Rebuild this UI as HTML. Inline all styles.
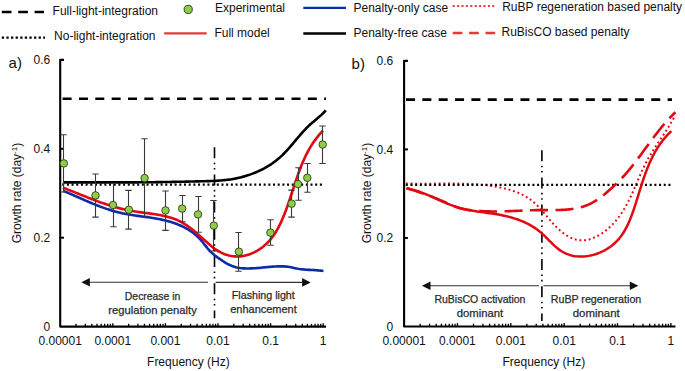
<!DOCTYPE html>
<html><head><meta charset="utf-8"><style>
html,body{margin:0;padding:0;background:#fff;}
body{width:685px;height:371px;overflow:hidden;}
svg{display:block;}
</style></head><body>
<svg width="685" height="371" viewBox="0 0 685 371">
<rect width="685" height="371" fill="#fff"/>
<path d="M64.00,59.90 L60.20,59.90 L60.20,326.60 L326.00,326.60" fill="none" stroke="#000" stroke-width="2.1" stroke-linejoin="round"/>
<line x1="60.20" y1="237.70" x2="64.00" y2="237.70" stroke="#000" stroke-width="2"/>
<line x1="60.20" y1="148.80" x2="64.00" y2="148.80" stroke="#000" stroke-width="2"/>
<line x1="76.03" y1="326.60" x2="76.03" y2="323.80" stroke="#000" stroke-width="1.3"/>
<line x1="85.30" y1="326.60" x2="85.30" y2="323.80" stroke="#000" stroke-width="1.3"/>
<line x1="91.87" y1="326.60" x2="91.87" y2="323.80" stroke="#000" stroke-width="1.3"/>
<line x1="96.97" y1="326.60" x2="96.97" y2="323.80" stroke="#000" stroke-width="1.3"/>
<line x1="101.13" y1="326.60" x2="101.13" y2="323.80" stroke="#000" stroke-width="1.3"/>
<line x1="104.65" y1="326.60" x2="104.65" y2="323.80" stroke="#000" stroke-width="1.3"/>
<line x1="107.70" y1="326.60" x2="107.70" y2="323.80" stroke="#000" stroke-width="1.3"/>
<line x1="110.39" y1="326.60" x2="110.39" y2="323.80" stroke="#000" stroke-width="1.3"/>
<line x1="112.80" y1="326.60" x2="112.80" y2="323.20" stroke="#000" stroke-width="1.3"/>
<line x1="128.63" y1="326.60" x2="128.63" y2="323.80" stroke="#000" stroke-width="1.3"/>
<line x1="137.90" y1="326.60" x2="137.90" y2="323.80" stroke="#000" stroke-width="1.3"/>
<line x1="144.47" y1="326.60" x2="144.47" y2="323.80" stroke="#000" stroke-width="1.3"/>
<line x1="149.57" y1="326.60" x2="149.57" y2="323.80" stroke="#000" stroke-width="1.3"/>
<line x1="153.73" y1="326.60" x2="153.73" y2="323.80" stroke="#000" stroke-width="1.3"/>
<line x1="157.25" y1="326.60" x2="157.25" y2="323.80" stroke="#000" stroke-width="1.3"/>
<line x1="160.30" y1="326.60" x2="160.30" y2="323.80" stroke="#000" stroke-width="1.3"/>
<line x1="162.99" y1="326.60" x2="162.99" y2="323.80" stroke="#000" stroke-width="1.3"/>
<line x1="165.40" y1="326.60" x2="165.40" y2="323.20" stroke="#000" stroke-width="1.3"/>
<line x1="181.23" y1="326.60" x2="181.23" y2="323.80" stroke="#000" stroke-width="1.3"/>
<line x1="190.50" y1="326.60" x2="190.50" y2="323.80" stroke="#000" stroke-width="1.3"/>
<line x1="197.07" y1="326.60" x2="197.07" y2="323.80" stroke="#000" stroke-width="1.3"/>
<line x1="202.17" y1="326.60" x2="202.17" y2="323.80" stroke="#000" stroke-width="1.3"/>
<line x1="206.33" y1="326.60" x2="206.33" y2="323.80" stroke="#000" stroke-width="1.3"/>
<line x1="209.85" y1="326.60" x2="209.85" y2="323.80" stroke="#000" stroke-width="1.3"/>
<line x1="212.90" y1="326.60" x2="212.90" y2="323.80" stroke="#000" stroke-width="1.3"/>
<line x1="215.59" y1="326.60" x2="215.59" y2="323.80" stroke="#000" stroke-width="1.3"/>
<line x1="218.00" y1="326.60" x2="218.00" y2="323.20" stroke="#000" stroke-width="1.3"/>
<line x1="233.83" y1="326.60" x2="233.83" y2="323.80" stroke="#000" stroke-width="1.3"/>
<line x1="243.10" y1="326.60" x2="243.10" y2="323.80" stroke="#000" stroke-width="1.3"/>
<line x1="249.67" y1="326.60" x2="249.67" y2="323.80" stroke="#000" stroke-width="1.3"/>
<line x1="254.77" y1="326.60" x2="254.77" y2="323.80" stroke="#000" stroke-width="1.3"/>
<line x1="258.93" y1="326.60" x2="258.93" y2="323.80" stroke="#000" stroke-width="1.3"/>
<line x1="262.45" y1="326.60" x2="262.45" y2="323.80" stroke="#000" stroke-width="1.3"/>
<line x1="265.50" y1="326.60" x2="265.50" y2="323.80" stroke="#000" stroke-width="1.3"/>
<line x1="268.19" y1="326.60" x2="268.19" y2="323.80" stroke="#000" stroke-width="1.3"/>
<line x1="270.60" y1="326.60" x2="270.60" y2="323.20" stroke="#000" stroke-width="1.3"/>
<line x1="286.43" y1="326.60" x2="286.43" y2="323.80" stroke="#000" stroke-width="1.3"/>
<line x1="295.70" y1="326.60" x2="295.70" y2="323.80" stroke="#000" stroke-width="1.3"/>
<line x1="302.27" y1="326.60" x2="302.27" y2="323.80" stroke="#000" stroke-width="1.3"/>
<line x1="307.37" y1="326.60" x2="307.37" y2="323.80" stroke="#000" stroke-width="1.3"/>
<line x1="311.53" y1="326.60" x2="311.53" y2="323.80" stroke="#000" stroke-width="1.3"/>
<line x1="315.05" y1="326.60" x2="315.05" y2="323.80" stroke="#000" stroke-width="1.3"/>
<line x1="318.10" y1="326.60" x2="318.10" y2="323.80" stroke="#000" stroke-width="1.3"/>
<line x1="320.79" y1="326.60" x2="320.79" y2="323.80" stroke="#000" stroke-width="1.3"/>
<line x1="323.20" y1="326.60" x2="323.20" y2="323.20" stroke="#000" stroke-width="1.3"/>
<text x="60.20" y="344.8" text-anchor="middle" style="font-family:'Liberation Sans',sans-serif;font-size:12px" fill="#111">0.00001</text>
<text x="112.80" y="344.8" text-anchor="middle" style="font-family:'Liberation Sans',sans-serif;font-size:12px" fill="#111">0.0001</text>
<text x="165.40" y="344.8" text-anchor="middle" style="font-family:'Liberation Sans',sans-serif;font-size:12px" fill="#111">0.001</text>
<text x="218.00" y="344.8" text-anchor="middle" style="font-family:'Liberation Sans',sans-serif;font-size:12px" fill="#111">0.01</text>
<text x="270.60" y="344.8" text-anchor="middle" style="font-family:'Liberation Sans',sans-serif;font-size:12px" fill="#111">0.1</text>
<text x="323.20" y="344.8" text-anchor="middle" style="font-family:'Liberation Sans',sans-serif;font-size:12px" fill="#111">1</text>
<text x="50.20" y="330.80" text-anchor="end" style="font-family:'Liberation Sans',sans-serif;font-size:12px" fill="#111">0</text>
<text x="50.20" y="241.90" text-anchor="end" style="font-family:'Liberation Sans',sans-serif;font-size:12px" fill="#111">0.2</text>
<text x="50.20" y="153.00" text-anchor="end" style="font-family:'Liberation Sans',sans-serif;font-size:12px" fill="#111">0.4</text>
<text x="50.20" y="64.10" text-anchor="end" style="font-family:'Liberation Sans',sans-serif;font-size:12px" fill="#111">0.6</text>
<text x="188.40" y="366.3" text-anchor="middle" style="font-family:'Liberation Sans',sans-serif;font-size:12px" fill="#111">Frequency (Hz)</text>
<text transform="translate(21.30,193) rotate(-90)" text-anchor="middle" style="font-family:'Liberation Sans',sans-serif;font-size:12px" fill="#111">Growth rate (day<tspan dy="-4" style="font-size:8px">-1</tspan><tspan dy="4">)</tspan></text>
<path d="M407.90,60.88 L404.10,60.88 L404.10,326.50 L675.45,326.50" fill="none" stroke="#000" stroke-width="2.1" stroke-linejoin="round"/>
<line x1="404.10" y1="237.96" x2="407.90" y2="237.96" stroke="#000" stroke-width="2"/>
<line x1="404.10" y1="149.42" x2="407.90" y2="149.42" stroke="#000" stroke-width="2"/>
<line x1="420.16" y1="326.50" x2="420.16" y2="323.70" stroke="#000" stroke-width="1.3"/>
<line x1="429.55" y1="326.50" x2="429.55" y2="323.70" stroke="#000" stroke-width="1.3"/>
<line x1="436.22" y1="326.50" x2="436.22" y2="323.70" stroke="#000" stroke-width="1.3"/>
<line x1="441.39" y1="326.50" x2="441.39" y2="323.70" stroke="#000" stroke-width="1.3"/>
<line x1="445.61" y1="326.50" x2="445.61" y2="323.70" stroke="#000" stroke-width="1.3"/>
<line x1="449.19" y1="326.50" x2="449.19" y2="323.70" stroke="#000" stroke-width="1.3"/>
<line x1="452.28" y1="326.50" x2="452.28" y2="323.70" stroke="#000" stroke-width="1.3"/>
<line x1="455.01" y1="326.50" x2="455.01" y2="323.70" stroke="#000" stroke-width="1.3"/>
<line x1="457.45" y1="326.50" x2="457.45" y2="323.10" stroke="#000" stroke-width="1.3"/>
<line x1="473.51" y1="326.50" x2="473.51" y2="323.70" stroke="#000" stroke-width="1.3"/>
<line x1="482.90" y1="326.50" x2="482.90" y2="323.70" stroke="#000" stroke-width="1.3"/>
<line x1="489.57" y1="326.50" x2="489.57" y2="323.70" stroke="#000" stroke-width="1.3"/>
<line x1="494.74" y1="326.50" x2="494.74" y2="323.70" stroke="#000" stroke-width="1.3"/>
<line x1="498.96" y1="326.50" x2="498.96" y2="323.70" stroke="#000" stroke-width="1.3"/>
<line x1="502.54" y1="326.50" x2="502.54" y2="323.70" stroke="#000" stroke-width="1.3"/>
<line x1="505.63" y1="326.50" x2="505.63" y2="323.70" stroke="#000" stroke-width="1.3"/>
<line x1="508.36" y1="326.50" x2="508.36" y2="323.70" stroke="#000" stroke-width="1.3"/>
<line x1="510.80" y1="326.50" x2="510.80" y2="323.10" stroke="#000" stroke-width="1.3"/>
<line x1="526.86" y1="326.50" x2="526.86" y2="323.70" stroke="#000" stroke-width="1.3"/>
<line x1="536.25" y1="326.50" x2="536.25" y2="323.70" stroke="#000" stroke-width="1.3"/>
<line x1="542.92" y1="326.50" x2="542.92" y2="323.70" stroke="#000" stroke-width="1.3"/>
<line x1="548.09" y1="326.50" x2="548.09" y2="323.70" stroke="#000" stroke-width="1.3"/>
<line x1="552.31" y1="326.50" x2="552.31" y2="323.70" stroke="#000" stroke-width="1.3"/>
<line x1="555.89" y1="326.50" x2="555.89" y2="323.70" stroke="#000" stroke-width="1.3"/>
<line x1="558.98" y1="326.50" x2="558.98" y2="323.70" stroke="#000" stroke-width="1.3"/>
<line x1="561.71" y1="326.50" x2="561.71" y2="323.70" stroke="#000" stroke-width="1.3"/>
<line x1="564.15" y1="326.50" x2="564.15" y2="323.10" stroke="#000" stroke-width="1.3"/>
<line x1="580.21" y1="326.50" x2="580.21" y2="323.70" stroke="#000" stroke-width="1.3"/>
<line x1="589.60" y1="326.50" x2="589.60" y2="323.70" stroke="#000" stroke-width="1.3"/>
<line x1="596.27" y1="326.50" x2="596.27" y2="323.70" stroke="#000" stroke-width="1.3"/>
<line x1="601.44" y1="326.50" x2="601.44" y2="323.70" stroke="#000" stroke-width="1.3"/>
<line x1="605.66" y1="326.50" x2="605.66" y2="323.70" stroke="#000" stroke-width="1.3"/>
<line x1="609.24" y1="326.50" x2="609.24" y2="323.70" stroke="#000" stroke-width="1.3"/>
<line x1="612.33" y1="326.50" x2="612.33" y2="323.70" stroke="#000" stroke-width="1.3"/>
<line x1="615.06" y1="326.50" x2="615.06" y2="323.70" stroke="#000" stroke-width="1.3"/>
<line x1="617.50" y1="326.50" x2="617.50" y2="323.10" stroke="#000" stroke-width="1.3"/>
<line x1="633.56" y1="326.50" x2="633.56" y2="323.70" stroke="#000" stroke-width="1.3"/>
<line x1="642.95" y1="326.50" x2="642.95" y2="323.70" stroke="#000" stroke-width="1.3"/>
<line x1="649.62" y1="326.50" x2="649.62" y2="323.70" stroke="#000" stroke-width="1.3"/>
<line x1="654.79" y1="326.50" x2="654.79" y2="323.70" stroke="#000" stroke-width="1.3"/>
<line x1="659.01" y1="326.50" x2="659.01" y2="323.70" stroke="#000" stroke-width="1.3"/>
<line x1="662.59" y1="326.50" x2="662.59" y2="323.70" stroke="#000" stroke-width="1.3"/>
<line x1="665.68" y1="326.50" x2="665.68" y2="323.70" stroke="#000" stroke-width="1.3"/>
<line x1="668.41" y1="326.50" x2="668.41" y2="323.70" stroke="#000" stroke-width="1.3"/>
<line x1="670.85" y1="326.50" x2="670.85" y2="323.10" stroke="#000" stroke-width="1.3"/>
<text x="404.10" y="344.8" text-anchor="middle" style="font-family:'Liberation Sans',sans-serif;font-size:12px" fill="#111">0.00001</text>
<text x="457.45" y="344.8" text-anchor="middle" style="font-family:'Liberation Sans',sans-serif;font-size:12px" fill="#111">0.0001</text>
<text x="510.80" y="344.8" text-anchor="middle" style="font-family:'Liberation Sans',sans-serif;font-size:12px" fill="#111">0.001</text>
<text x="564.15" y="344.8" text-anchor="middle" style="font-family:'Liberation Sans',sans-serif;font-size:12px" fill="#111">0.01</text>
<text x="617.50" y="344.8" text-anchor="middle" style="font-family:'Liberation Sans',sans-serif;font-size:12px" fill="#111">0.1</text>
<text x="670.85" y="344.8" text-anchor="middle" style="font-family:'Liberation Sans',sans-serif;font-size:12px" fill="#111">1</text>
<text x="393.20" y="330.70" text-anchor="end" style="font-family:'Liberation Sans',sans-serif;font-size:12px" fill="#111">0</text>
<text x="393.20" y="242.16" text-anchor="end" style="font-family:'Liberation Sans',sans-serif;font-size:12px" fill="#111">0.2</text>
<text x="393.20" y="153.62" text-anchor="end" style="font-family:'Liberation Sans',sans-serif;font-size:12px" fill="#111">0.4</text>
<text x="393.20" y="65.08" text-anchor="end" style="font-family:'Liberation Sans',sans-serif;font-size:12px" fill="#111">0.6</text>
<text x="543.80" y="366.3" text-anchor="middle" style="font-family:'Liberation Sans',sans-serif;font-size:12px" fill="#111">Frequency (Hz)</text>
<text transform="translate(371.40,193) rotate(-90)" text-anchor="middle" style="font-family:'Liberation Sans',sans-serif;font-size:12px" fill="#111">Growth rate (day<tspan dy="-4" style="font-size:8px">-1</tspan><tspan dy="4">)</tspan></text>
<text x="8.6" y="67.6" style="font-family:'Liberation Sans',sans-serif;font-size:15px" fill="#111">a)</text>
<text x="351.6" y="68.9" style="font-family:'Liberation Sans',sans-serif;font-size:15px" fill="#111">b)</text>
<line x1="62.6" y1="98.8" x2="326" y2="98.8" stroke="#000" stroke-width="2.6" stroke-dasharray="9 7.35"/>
<line x1="214.5" y1="147.2" x2="214.5" y2="318.2" stroke="#000" stroke-width="1.6" stroke-dasharray="11 4.45 1.6 3.75 1.6 4.8"/>
<line x1="62.2" y1="184.6" x2="324" y2="184.6" stroke="#000" stroke-width="2.1" stroke-dasharray="2 2.685"/>
<path d="M63.00,182.41 L64.50,182.41 L65.99,182.40 L67.48,182.40 L68.97,182.40 L70.47,182.39 L71.96,182.39 L73.45,182.39 L74.95,182.39 L76.44,182.39 L77.93,182.39 L79.43,182.39 L80.92,182.39 L82.42,182.39 L83.91,182.39 L85.40,182.39 L86.90,182.39 L88.39,182.39 L89.89,182.39 L91.38,182.39 L92.87,182.39 L94.37,182.39 L95.86,182.39 L97.36,182.39 L98.85,182.40 L100.34,182.40 L101.84,182.40 L103.33,182.40 L104.83,182.40 L106.32,182.40 L107.82,182.40 L109.31,182.40 L110.81,182.40 L112.30,182.40 L113.79,182.40 L115.29,182.40 L116.78,182.40 L118.28,182.39 L119.77,182.39 L121.27,182.39 L122.76,182.39 L124.26,182.38 L125.75,182.38 L127.24,182.37 L128.74,182.37 L130.23,182.36 L131.73,182.36 L133.22,182.35 L134.71,182.34 L136.21,182.33 L137.70,182.33 L139.20,182.32 L140.69,182.31 L142.18,182.30 L143.68,182.28 L145.17,182.27 L146.66,182.26 L148.16,182.24 L149.65,182.23 L151.14,182.21 L152.64,182.20 L154.13,182.18 L155.62,182.16 L157.11,182.14 L158.61,182.12 L160.10,182.10 L161.59,182.08 L163.08,182.06 L164.58,182.03 L166.07,182.01 L167.56,181.99 L169.05,181.96 L170.55,181.93 L172.04,181.91 L173.53,181.88 L175.03,181.85 L176.52,181.82 L178.01,181.80 L179.50,181.77 L181.00,181.74 L182.49,181.71 L183.98,181.68 L185.48,181.64 L186.97,181.61 L188.46,181.58 L189.96,181.55 L191.45,181.52 L192.95,181.48 L194.44,181.45 L195.93,181.41 L197.43,181.38 L198.92,181.35 L200.42,181.31 L201.91,181.28 L203.41,181.24 L204.91,181.20 L206.40,181.16 L207.90,181.12 L209.39,181.08 L210.89,181.02 L212.38,180.97 L213.88,180.90 L215.37,180.83 L216.86,180.75 L218.36,180.65 L219.85,180.55 L221.34,180.43 L222.82,180.30 L224.31,180.16 L225.80,180.00 L227.28,179.82 L228.76,179.63 L230.25,179.42 L231.72,179.18 L233.20,178.93 L234.67,178.66 L236.14,178.37 L237.61,178.07 L239.07,177.74 L240.53,177.39 L241.98,177.02 L243.43,176.63 L244.87,176.22 L246.31,175.79 L247.74,175.35 L249.16,174.88 L250.57,174.39 L251.98,173.88 L253.37,173.35 L254.76,172.80 L256.14,172.23 L257.51,171.64 L258.87,171.02 L260.22,170.39 L261.55,169.74 L262.88,169.06 L264.19,168.36 L265.49,167.65 L266.78,166.91 L268.05,166.15 L269.31,165.37 L270.56,164.56 L271.79,163.74 L273.01,162.89 L274.21,162.02 L275.39,161.14 L276.56,160.22 L277.71,159.29 L278.85,158.33 L279.96,157.36 L281.06,156.36 L282.15,155.34 L283.21,154.30 L284.26,153.24 L285.30,152.17 L286.33,151.08 L287.34,149.98 L288.35,148.86 L289.34,147.74 L290.33,146.60 L291.31,145.46 L292.29,144.32 L293.27,143.16 L294.24,142.01 L295.21,140.85 L296.18,139.70 L297.15,138.54 L298.13,137.39 L299.10,136.24 L300.09,135.10 L301.07,133.96 L302.07,132.84 L303.07,131.72 L304.09,130.61 L305.11,129.52 L306.15,128.45 L307.20,127.38 L308.26,126.34 L309.34,125.32 L310.44,124.31 L311.55,123.32 L312.68,122.35 L313.81,121.39 L314.95,120.44 L316.09,119.48 L317.23,118.53 L318.36,117.57 L319.49,116.59 L320.60,115.60 L321.70,114.59 L322.78,113.56 L323.83,112.49 L324.86,111.40 L325.86,110.27" fill="none" stroke="#000" stroke-width="2.6"/>
<path d="M63.02,190.75 L64.40,191.33 L65.78,191.91 L67.16,192.49 L68.54,193.08 L69.91,193.68 L71.29,194.28 L72.66,194.88 L74.04,195.48 L75.41,196.09 L76.78,196.69 L78.15,197.30 L79.52,197.91 L80.89,198.52 L82.27,199.12 L83.64,199.72 L85.01,200.32 L86.39,200.92 L87.76,201.52 L89.14,202.11 L90.52,202.69 L91.90,203.27 L93.28,203.84 L94.67,204.41 L96.06,204.97 L97.45,205.52 L98.84,206.06 L100.23,206.60 L101.63,207.12 L103.03,207.64 L104.44,208.14 L105.85,208.63 L107.26,209.11 L108.68,209.58 L110.10,210.03 L111.53,210.47 L112.96,210.90 L114.40,211.31 L115.84,211.70 L117.29,212.08 L118.74,212.45 L120.20,212.79 L121.66,213.12 L123.13,213.43 L124.61,213.72 L126.09,214.00 L127.57,214.27 L129.05,214.53 L130.54,214.77 L132.03,215.01 L133.52,215.24 L135.00,215.46 L136.49,215.67 L137.98,215.88 L139.47,216.09 L140.95,216.30 L142.43,216.50 L143.91,216.70 L145.39,216.91 L146.87,217.11 L148.34,217.33 L149.82,217.54 L151.29,217.77 L152.76,218.00 L154.23,218.24 L155.70,218.49 L157.17,218.76 L158.64,219.03 L160.11,219.33 L161.58,219.63 L163.04,219.96 L164.51,220.30 L165.97,220.66 L167.43,221.04 L168.89,221.44 L170.34,221.86 L171.78,222.30 L173.21,222.76 L174.64,223.25 L176.06,223.75 L177.46,224.29 L178.85,224.84 L180.23,225.43 L181.60,226.03 L182.95,226.67 L184.29,227.33 L185.61,228.03 L186.91,228.75 L188.19,229.50 L189.45,230.28 L190.69,231.09 L191.92,231.94 L193.11,232.82 L194.29,233.73 L195.44,234.68 L196.56,235.66 L197.66,236.67 L198.72,237.73 L199.76,238.82 L200.78,239.95 L201.76,241.11 L202.73,242.29 L203.68,243.49 L204.63,244.70 L205.58,245.90 L206.53,247.09 L207.49,248.27 L208.47,249.41 L209.47,250.53 L210.50,251.59 L211.57,252.61 L212.66,253.60 L213.78,254.54 L214.93,255.46 L216.10,256.35 L217.29,257.23 L218.51,258.09 L219.73,258.94 L220.98,259.79 L222.24,260.64 L223.52,261.47 L224.81,262.28 L226.11,263.06 L227.44,263.81 L228.78,264.53 L230.13,265.19 L231.51,265.80 L232.90,266.35 L234.31,266.84 L235.74,267.25 L237.18,267.58 L238.64,267.86 L240.11,268.07 L241.59,268.23 L243.07,268.34 L244.56,268.41 L246.05,268.45 L247.54,268.47 L249.03,268.45 L250.52,268.42 L252.02,268.36 L253.51,268.28 L255.00,268.19 L256.50,268.08 L257.99,267.96 L259.49,267.83 L260.98,267.69 L262.48,267.55 L263.97,267.40 L265.47,267.26 L266.97,267.12 L268.46,266.98 L269.96,266.85 L271.46,266.73 L272.96,266.63 L274.46,266.53 L275.96,266.45 L277.46,266.40 L278.97,266.36 L280.47,266.35 L281.97,266.36 L283.47,266.41 L284.97,266.49 L286.46,266.61 L287.95,266.77 L289.42,266.98 L290.89,267.25 L292.34,267.56 L293.79,267.91 L295.24,268.25 L296.69,268.56 L298.15,268.83 L299.62,269.06 L301.10,269.25 L302.58,269.41 L304.07,269.55 L305.56,269.66 L307.05,269.76 L308.55,269.84 L310.05,269.92 L311.55,269.99 L313.05,270.06 L314.55,270.14 L316.05,270.23 L317.55,270.34 L319.04,270.47 L320.53,270.62 L322.02,270.80 L323.50,271.01" fill="none" stroke="#0c2ba8" stroke-width="2.6"/>
<path d="M62.93,187.76 L64.36,188.30 L65.79,188.84 L67.22,189.38 L68.64,189.93 L70.06,190.48 L71.48,191.03 L72.89,191.59 L74.29,192.14 L75.70,192.70 L77.10,193.25 L78.49,193.81 L79.89,194.37 L81.28,194.92 L82.67,195.47 L84.06,196.03 L85.45,196.58 L86.84,197.13 L88.23,197.67 L89.61,198.21 L91.00,198.75 L92.38,199.29 L93.77,199.82 L95.15,200.34 L96.54,200.86 L97.93,201.38 L99.32,201.89 L100.71,202.39 L102.10,202.89 L103.50,203.37 L104.90,203.85 L106.30,204.33 L107.70,204.79 L109.11,205.25 L110.52,205.69 L111.93,206.13 L113.35,206.56 L114.77,206.97 L116.20,207.38 L117.63,207.77 L119.07,208.15 L120.51,208.52 L121.95,208.88 L123.41,209.23 L124.87,209.56 L126.33,209.88 L127.81,210.18 L129.29,210.47 L130.78,210.75 L132.27,211.01 L133.77,211.25 L135.28,211.49 L136.79,211.72 L138.30,211.94 L139.82,212.15 L141.34,212.36 L142.86,212.57 L144.38,212.77 L145.90,212.98 L147.42,213.18 L148.94,213.39 L150.46,213.60 L151.98,213.82 L153.49,214.04 L154.99,214.27 L156.50,214.52 L157.99,214.77 L159.48,215.04 L160.96,215.32 L162.44,215.62 L163.90,215.94 L165.36,216.27 L166.81,216.63 L168.24,217.01 L169.66,217.41 L171.08,217.84 L172.47,218.29 L173.86,218.78 L175.22,219.29 L176.58,219.83 L177.91,220.41 L179.24,221.02 L180.54,221.66 L181.82,222.35 L183.09,223.06 L184.34,223.81 L185.58,224.59 L186.80,225.40 L188.01,226.23 L189.21,227.09 L190.39,227.98 L191.57,228.88 L192.74,229.81 L193.89,230.75 L195.04,231.71 L196.19,232.69 L197.32,233.68 L198.46,234.68 L199.58,235.68 L200.71,236.70 L201.83,237.72 L202.95,238.75 L204.07,239.78 L205.20,240.81 L206.32,241.83 L207.45,242.85 L208.58,243.86 L209.72,244.85 L210.88,245.83 L212.04,246.77 L213.22,247.69 L214.42,248.58 L215.64,249.43 L216.88,250.24 L218.13,251.01 L219.41,251.73 L220.71,252.40 L222.02,253.03 L223.35,253.61 L224.70,254.14 L226.06,254.62 L227.43,255.05 L228.82,255.42 L230.22,255.74 L231.63,256.00 L233.05,256.21 L234.48,256.36 L235.91,256.44 L237.35,256.47 L238.80,256.43 L240.26,256.33 L241.72,256.16 L243.17,255.93 L244.63,255.65 L246.09,255.30 L247.53,254.89 L248.97,254.44 L250.40,253.92 L251.82,253.36 L253.22,252.75 L254.60,252.09 L255.96,251.39 L257.30,250.64 L258.61,249.85 L259.90,249.02 L261.16,248.16 L262.38,247.26 L263.57,246.32 L264.72,245.35 L265.84,244.35 L266.92,243.33 L267.96,242.27 L268.98,241.19 L269.96,240.08 L270.90,238.94 L271.82,237.78 L272.71,236.60 L273.57,235.40 L274.40,234.18 L275.21,232.94 L275.99,231.68 L276.75,230.40 L277.49,229.11 L278.21,227.80 L278.90,226.48 L279.58,225.14 L280.23,223.80 L280.87,222.44 L281.50,221.08 L282.11,219.71 L282.70,218.33 L283.28,216.95 L283.86,215.56 L284.42,214.16 L284.96,212.77 L285.50,211.36 L286.03,209.96 L286.55,208.55 L287.07,207.13 L287.57,205.72 L288.07,204.30 L288.56,202.88 L289.05,201.46 L289.53,200.03 L290.01,198.60 L290.48,197.18 L290.95,195.75 L291.42,194.32 L291.89,192.89 L292.35,191.46 L292.81,190.03 L293.28,188.60 L293.74,187.17 L294.21,185.74 L294.67,184.32 L295.14,182.89 L295.62,181.47 L296.09,180.05 L296.57,178.63 L297.06,177.22 L297.55,175.81 L298.05,174.40 L298.55,172.99 L299.06,171.59 L299.58,170.19 L300.11,168.80 L300.65,167.41 L301.20,166.03 L301.76,164.65 L302.33,163.28 L302.91,161.92 L303.50,160.56 L304.11,159.21 L304.73,157.86 L305.36,156.52 L306.01,155.19 L306.68,153.87 L307.36,152.55 L308.05,151.24 L308.77,149.95 L309.50,148.66 L310.25,147.37 L311.03,146.10 L311.82,144.84 L312.63,143.59 L313.46,142.35 L314.31,141.12 L315.19,139.90 L316.09,138.69 L317.01,137.49 L317.96,136.30 L318.93,135.13 L319.93,133.97 L320.96,132.82 L322.01,131.68 L323.08,130.56" fill="none" stroke="#e20a12" stroke-width="2.65"/>
<path d="M63.5,134.8 V192.0 M60.3,134.8 H66.7 M60.3,192.0 H66.7" stroke="#3a3a3a" stroke-width="1.1" fill="none"/>
<path d="M95.5,174.0 V217.1 M92.3,174.0 H98.7 M92.3,217.1 H98.7" stroke="#3a3a3a" stroke-width="1.1" fill="none"/>
<path d="M113.5,183.2 V226.8 M110.3,183.2 H116.7 M110.3,226.8 H116.7" stroke="#3a3a3a" stroke-width="1.1" fill="none"/>
<path d="M128.5,190.4 V229.1 M125.3,190.4 H131.7 M125.3,229.1 H131.7" stroke="#3a3a3a" stroke-width="1.1" fill="none"/>
<path d="M144.5,138.8 V217.3 M141.3,138.8 H147.7 M141.3,217.3 H147.7" stroke="#3a3a3a" stroke-width="1.1" fill="none"/>
<path d="M165.5,191.0 V230.4 M162.3,191.0 H168.7 M162.3,230.4 H168.7" stroke="#3a3a3a" stroke-width="1.1" fill="none"/>
<path d="M182.5,195.5 V221.7 M179.3,195.5 H185.7 M179.3,221.7 H185.7" stroke="#3a3a3a" stroke-width="1.1" fill="none"/>
<path d="M198.5,196.5 V232.3 M195.3,196.5 H201.7 M195.3,232.3 H201.7" stroke="#3a3a3a" stroke-width="1.1" fill="none"/>
<path d="M213.5,200.5 V251.0 M210.3,200.5 H216.7 M210.3,251.0 H216.7" stroke="#3a3a3a" stroke-width="1.1" fill="none"/>
<path d="M238.5,232.5 V271.3 M235.3,232.5 H241.7 M235.3,271.3 H241.7" stroke="#3a3a3a" stroke-width="1.1" fill="none"/>
<path d="M270.5,219.7 V245.3 M267.3,219.7 H273.7 M267.3,245.3 H273.7" stroke="#3a3a3a" stroke-width="1.1" fill="none"/>
<path d="M291.5,190.1 V217.1 M288.3,190.1 H294.7 M288.3,217.1 H294.7" stroke="#3a3a3a" stroke-width="1.1" fill="none"/>
<path d="M298.5,167.8 V200.2 M295.3,167.8 H301.7 M295.3,200.2 H301.7" stroke="#3a3a3a" stroke-width="1.1" fill="none"/>
<path d="M307.5,163.5 V192.3 M304.3,163.5 H310.7 M304.3,192.3 H310.7" stroke="#3a3a3a" stroke-width="1.1" fill="none"/>
<path d="M322.5,126.0 V163.5 M319.3,126.0 H325.7 M319.3,163.5 H325.7" stroke="#3a3a3a" stroke-width="1.1" fill="none"/>
<circle cx="63.8" cy="163.4" r="3.75" fill="#8fcc4c" stroke="#2e4216" stroke-width="0.9"/>
<circle cx="95.5" cy="195.4" r="3.75" fill="#8fcc4c" stroke="#2e4216" stroke-width="0.9"/>
<circle cx="113.0" cy="205.0" r="3.75" fill="#8fcc4c" stroke="#2e4216" stroke-width="0.9"/>
<circle cx="128.8" cy="209.7" r="3.75" fill="#8fcc4c" stroke="#2e4216" stroke-width="0.9"/>
<circle cx="144.6" cy="178.1" r="3.75" fill="#8fcc4c" stroke="#2e4216" stroke-width="0.9"/>
<circle cx="165.5" cy="210.4" r="3.75" fill="#8fcc4c" stroke="#2e4216" stroke-width="0.9"/>
<circle cx="182.2" cy="208.6" r="3.75" fill="#8fcc4c" stroke="#2e4216" stroke-width="0.9"/>
<circle cx="198.0" cy="214.4" r="3.75" fill="#8fcc4c" stroke="#2e4216" stroke-width="0.9"/>
<circle cx="213.8" cy="225.6" r="3.75" fill="#8fcc4c" stroke="#2e4216" stroke-width="0.9"/>
<circle cx="238.9" cy="251.7" r="3.75" fill="#8fcc4c" stroke="#2e4216" stroke-width="0.9"/>
<circle cx="270.4" cy="232.6" r="3.75" fill="#8fcc4c" stroke="#2e4216" stroke-width="0.9"/>
<circle cx="291.6" cy="203.7" r="3.75" fill="#8fcc4c" stroke="#2e4216" stroke-width="0.9"/>
<circle cx="298.0" cy="184.1" r="3.75" fill="#8fcc4c" stroke="#2e4216" stroke-width="0.9"/>
<circle cx="307.3" cy="177.8" r="3.75" fill="#8fcc4c" stroke="#2e4216" stroke-width="0.9"/>
<circle cx="322.7" cy="144.6" r="3.75" fill="#8fcc4c" stroke="#2e4216" stroke-width="0.9"/>
<line x1="89.3" y1="282.3" x2="208.0" y2="282.3" stroke="#333" stroke-width="1.1"/>
<path d="M81.3,282.3 L89.89999999999999,278.0 L89.89999999999999,286.6 Z" fill="#111"/>
<line x1="215.6" y1="282.4" x2="302.7" y2="282.4" stroke="#333" stroke-width="1.1"/>
<path d="M310.7,282.4 L302.09999999999997,278.09999999999997 L302.09999999999997,286.7 Z" fill="#111"/>
<text x="152.6" y="300.3" text-anchor="middle" textLength="55.5" lengthAdjust="spacingAndGlyphs" style="font-family:'Liberation Sans',sans-serif;font-size:10.8px" fill="#2a2a2a" stroke="#2a2a2a" stroke-width="0.25">Decrease in</text>
<text x="152.5" y="313.8" text-anchor="middle" textLength="88.5" lengthAdjust="spacingAndGlyphs" style="font-family:'Liberation Sans',sans-serif;font-size:10.8px" fill="#2a2a2a" stroke="#2a2a2a" stroke-width="0.25">regulation penalty</text>
<text x="263.3" y="298.8" text-anchor="middle" textLength="63.0" lengthAdjust="spacingAndGlyphs" style="font-family:'Liberation Sans',sans-serif;font-size:10.8px" fill="#2a2a2a" stroke="#2a2a2a" stroke-width="0.25">Flashing light</text>
<text x="263.5" y="313.3" text-anchor="middle" textLength="66.5" lengthAdjust="spacingAndGlyphs" style="font-family:'Liberation Sans',sans-serif;font-size:10.8px" fill="#2a2a2a" stroke="#2a2a2a" stroke-width="0.25">enhancement</text>
<line x1="406" y1="99.6" x2="672" y2="99.6" stroke="#000" stroke-width="2.6" stroke-dasharray="9 7.35"/>
<line x1="541.9" y1="150.2" x2="541.9" y2="321.0" stroke="#000" stroke-width="1.6" stroke-dasharray="11 4.45 1.6 3.75 1.6 4.8"/>
<path d="M405.85,183.38 L407.33,183.43 L408.82,183.48 L410.31,183.52 L411.80,183.56 L413.29,183.59 L414.78,183.62 L416.27,183.64 L417.77,183.65 L419.26,183.67 L420.75,183.67 L422.25,183.68 L423.75,183.68 L425.24,183.68 L426.74,183.67 L428.24,183.67 L429.74,183.66 L431.24,183.65 L432.74,183.64 L434.24,183.63 L435.74,183.62 L437.24,183.60 L438.74,183.59 L440.24,183.58 L441.74,183.57 L443.24,183.56 L444.75,183.55 L446.25,183.55 L447.75,183.54 L449.25,183.54 L450.76,183.55 L452.26,183.55 L453.76,183.56 L455.26,183.57 L456.77,183.59 L458.27,183.61 L459.77,183.64 L461.27,183.67 L462.77,183.71 L464.28,183.76 L465.78,183.81 L467.28,183.86 L468.78,183.93 L470.28,184.00 L471.78,184.08 L473.28,184.17 L474.77,184.26 L476.27,184.37 L477.77,184.48 L479.26,184.61 L480.76,184.74 L482.26,184.88 L483.75,185.04 L485.24,185.20 L486.73,185.38 L488.23,185.57 L489.72,185.76 L491.21,185.98 L492.69,186.20 L494.18,186.44 L495.67,186.69 L497.15,186.95 L498.64,187.23 L500.12,187.52 L501.60,187.83 L503.08,188.15 L504.55,188.49 L506.02,188.85 L507.49,189.22 L508.95,189.62 L510.40,190.04 L511.84,190.48 L513.27,190.94 L514.68,191.42 L516.09,191.93 L517.48,192.47 L518.86,193.03 L520.22,193.63 L521.56,194.25 L522.88,194.90 L524.19,195.58 L525.47,196.30 L526.73,197.04 L527.97,197.83 L529.19,198.65 L530.38,199.50 L531.54,200.39 L532.68,201.32 L533.80,202.28 L534.89,203.27 L535.97,204.29 L537.03,205.33 L538.07,206.40 L539.10,207.49 L540.12,208.59 L541.13,209.72 L542.14,210.86 L543.13,212.01 L544.12,213.17 L545.11,214.34 L546.10,215.51 L547.09,216.69 L548.09,217.87 L549.08,219.04 L550.09,220.21 L551.11,221.38 L552.13,222.54 L553.17,223.68 L554.22,224.81 L555.29,225.93 L556.38,227.03 L557.48,228.11 L558.61,229.17 L559.75,230.20 L560.91,231.20 L562.09,232.16 L563.29,233.09 L564.51,233.98 L565.74,234.83 L566.98,235.62 L568.24,236.37 L569.52,237.07 L570.80,237.71 L572.10,238.28 L573.42,238.80 L574.74,239.24 L576.08,239.62 L577.42,239.92 L578.78,240.15 L580.15,240.29 L581.52,240.36 L582.90,240.34 L584.29,240.25 L585.68,240.08 L587.07,239.84 L588.46,239.54 L589.84,239.17 L591.23,238.73 L592.61,238.24 L593.98,237.69 L595.34,237.08 L596.70,236.42 L598.04,235.72 L599.37,234.96 L600.68,234.16 L601.97,233.33 L603.25,232.45 L604.50,231.54 L605.73,230.60 L606.94,229.62 L608.12,228.62 L609.28,227.60 L610.41,226.55 L611.50,225.48 L612.58,224.38 L613.63,223.27 L614.65,222.14 L615.64,220.99 L616.62,219.82 L617.57,218.64 L618.49,217.44 L619.39,216.22 L620.27,214.99 L621.13,213.75 L621.97,212.50 L622.79,211.23 L623.59,209.95 L624.37,208.66 L625.13,207.37 L625.88,206.06 L626.60,204.75 L627.31,203.43 L628.01,202.10 L628.69,200.77 L629.36,199.44 L630.01,198.09 L630.65,196.75 L631.29,195.39 L631.91,194.04 L632.53,192.68 L633.14,191.32 L633.74,189.95 L634.33,188.59 L634.92,187.22 L635.51,185.85 L636.10,184.48 L636.68,183.10 L637.27,181.73 L637.85,180.36 L638.43,178.99 L639.02,177.62 L639.61,176.25 L640.21,174.89 L640.81,173.52 L641.41,172.16 L642.03,170.81 L642.65,169.45 L643.28,168.10 L643.92,166.76 L644.58,165.42 L645.24,164.08 L645.92,162.76 L646.61,161.43 L647.32,160.12 L648.04,158.81 L648.78,157.51 L649.53,156.21 L650.30,154.92 L651.07,153.64 L651.86,152.36 L652.66,151.08 L653.46,149.81 L654.28,148.55 L655.10,147.28 L655.92,146.02 L656.76,144.76 L657.59,143.51 L658.43,142.25 L659.27,141.00 L660.11,139.74 L660.96,138.49 L661.80,137.24 L662.63,135.99 L663.47,134.73 L664.30,133.48 L665.13,132.22 L665.95,130.96 L666.77,129.70 L667.57,128.43 L668.37,127.17 L669.16,125.90 L669.93,124.62 L670.70,123.34 L671.45,122.05 L672.19,120.76 L672.91,119.46 L673.62,118.16 L674.31,116.85" fill="none" stroke="#e20a12" stroke-width="2" stroke-dasharray="1.9 2.79"/>
<line x1="405.8" y1="184.9" x2="671" y2="184.9" stroke="#000" stroke-width="2.1" stroke-dasharray="2 2.69"/>
<path d="M406.47,188.17 L407.91,188.60 L409.35,189.03 L410.79,189.47 L412.22,189.92 L413.65,190.37 L415.08,190.83 L416.51,191.29 L417.93,191.76 L419.35,192.24 L420.77,192.72 L422.19,193.21 L423.61,193.71 L425.02,194.21 L426.43,194.72 L427.83,195.24 L429.24,195.76 L430.64,196.29 L432.04,196.83 L433.44,197.37 L434.83,197.92 L436.22,198.48 L437.61,199.04 L438.99,199.62 L440.37,200.19 L441.75,200.78 L443.12,201.37 L444.50,201.97 L445.87,202.58 L447.23,203.19 L448.59,203.81 L449.96,204.43 L451.32,205.04 L452.69,205.63 L454.07,206.21 L455.46,206.75 L456.85,207.26 L458.27,207.74 L459.70,208.16 L461.14,208.55 L462.60,208.89 L464.07,209.20 L465.54,209.47 L467.03,209.72 L468.52,209.94 L470.01,210.14 L471.51,210.32 L473.00,210.48 L474.50,210.63 L475.99,210.76 L477.48,210.88 L478.98,210.99 L480.47,211.08 L481.96,211.17 L483.45,211.24 L484.94,211.30 L486.43,211.35 L487.93,211.38 L489.42,211.41 L490.91,211.43 L492.40,211.45 L493.89,211.45 L495.38,211.44 L496.87,211.43 L498.36,211.41 L499.85,211.39 L501.34,211.36 L502.83,211.32 L504.32,211.28 L505.82,211.24 L507.31,211.19 L508.80,211.13 L510.30,211.08 L511.79,211.02 L513.29,210.96 L514.78,210.90 L516.28,210.84 L517.78,210.77 L519.28,210.71 L520.78,210.65 L522.28,210.59 L523.78,210.53 L525.29,210.47 L526.79,210.41 L528.30,210.36 L529.81,210.31 L531.32,210.26 L532.83,210.22 L534.34,210.18 L535.85,210.15 L537.37,210.12 L538.89,210.10 L540.41,210.09 L541.93,210.08 L543.45,210.08 L544.97,210.08 L546.50,210.08 L548.02,210.09 L549.54,210.09 L551.07,210.09 L552.59,210.09 L554.11,210.08 L555.62,210.07 L557.14,210.04 L558.65,210.01 L560.16,209.97 L561.66,209.91 L563.16,209.84 L564.65,209.75 L566.14,209.65 L567.62,209.53 L569.10,209.38 L570.57,209.22 L572.03,209.03 L573.49,208.82 L574.93,208.58 L576.37,208.31 L577.80,208.01 L579.22,207.69 L580.63,207.33 L582.03,206.93 L583.42,206.51 L584.80,206.04 L586.17,205.54 L587.52,205.00 L588.87,204.41 L590.20,203.78 L591.51,203.12 L592.82,202.41 L594.11,201.66 L595.38,200.88 L596.65,200.07 L597.90,199.23 L599.15,198.36 L600.38,197.46 L601.59,196.55 L602.80,195.61 L604.00,194.65 L605.18,193.69 L606.35,192.71 L607.51,191.71 L608.67,190.72 L609.81,189.71 L610.94,188.71 L612.06,187.70 L613.17,186.69 L614.26,185.67 L615.35,184.65 L616.43,183.62 L617.50,182.58 L618.55,181.54 L619.60,180.48 L620.63,179.42 L621.65,178.34 L622.67,177.25 L623.67,176.16 L624.66,175.05 L625.65,173.93 L626.62,172.81 L627.59,171.68 L628.55,170.54 L629.50,169.39 L630.45,168.23 L631.39,167.07 L632.32,165.90 L633.25,164.73 L634.17,163.55 L635.08,162.36 L636.00,161.17 L636.90,159.98 L637.81,158.78 L638.71,157.58 L639.60,156.38 L640.50,155.17 L641.39,153.96 L642.28,152.75 L643.17,151.53 L644.06,150.32 L644.95,149.10 L645.84,147.89 L646.72,146.67 L647.61,145.46 L648.50,144.24 L649.39,143.03 L650.29,141.82 L651.18,140.61 L652.08,139.40 L652.98,138.20 L653.88,137.00 L654.79,135.80 L655.71,134.61 L656.62,133.42 L657.55,132.23 L658.47,131.05 L659.41,129.88 L660.35,128.71 L661.30,127.55 L662.25,126.40 L663.21,125.25 L664.18,124.11 L665.16,122.98 L666.15,121.86 L667.14,120.74 L668.15,119.64 L669.16,118.54 L670.19,117.46 L671.23,116.38 L672.27,115.32 L673.33,114.27 L674.40,113.22 L675.49,112.19" fill="none" stroke="#e20a12" stroke-width="2.6" stroke-dasharray="18 7.5"/>
<path d="M406.42,188.33 L407.91,188.60 L409.39,188.91 L410.86,189.24 L412.32,189.60 L413.77,189.99 L415.21,190.41 L416.65,190.85 L418.07,191.31 L419.49,191.80 L420.91,192.30 L422.31,192.83 L423.72,193.36 L425.11,193.92 L426.50,194.49 L427.89,195.07 L429.27,195.66 L430.65,196.25 L432.03,196.86 L433.41,197.47 L434.78,198.08 L436.15,198.70 L437.53,199.31 L438.90,199.93 L440.27,200.54 L441.64,201.15 L443.02,201.76 L444.39,202.35 L445.77,202.94 L447.15,203.51 L448.54,204.08 L449.93,204.63 L451.32,205.16 L452.72,205.68 L454.12,206.18 L455.53,206.66 L456.94,207.12 L458.36,207.55 L459.79,207.97 L461.22,208.35 L462.67,208.72 L464.11,209.06 L465.57,209.39 L467.02,209.70 L468.49,209.99 L469.95,210.27 L471.43,210.54 L472.90,210.79 L474.38,211.03 L475.86,211.26 L477.35,211.49 L478.83,211.70 L480.32,211.92 L481.81,212.12 L483.31,212.33 L484.80,212.53 L486.29,212.74 L487.79,212.95 L489.28,213.16 L490.78,213.37 L492.27,213.59 L493.76,213.81 L495.25,214.05 L496.74,214.29 L498.22,214.55 L499.70,214.82 L501.18,215.10 L502.66,215.40 L504.13,215.71 L505.60,216.03 L507.06,216.38 L508.52,216.74 L509.97,217.12 L511.41,217.52 L512.85,217.93 L514.28,218.37 L515.70,218.82 L517.11,219.30 L518.51,219.80 L519.90,220.32 L521.29,220.86 L522.66,221.42 L524.02,222.01 L525.36,222.62 L526.70,223.26 L528.02,223.93 L529.32,224.62 L530.62,225.33 L531.89,226.08 L533.15,226.85 L534.40,227.65 L535.63,228.48 L536.84,229.33 L538.04,230.22 L539.22,231.14 L540.37,232.10 L541.51,233.08 L542.64,234.09 L543.74,235.13 L544.84,236.19 L545.92,237.26 L547.00,238.35 L548.07,239.44 L549.14,240.53 L550.22,241.62 L551.29,242.70 L552.38,243.76 L553.47,244.81 L554.57,245.84 L555.69,246.84 L556.83,247.80 L557.99,248.73 L559.17,249.62 L560.38,250.46 L561.61,251.26 L562.87,252.00 L564.16,252.68 L565.47,253.32 L566.81,253.90 L568.17,254.42 L569.54,254.89 L570.94,255.30 L572.36,255.66 L573.80,255.95 L575.25,256.19 L576.71,256.37 L578.19,256.50 L579.67,256.57 L581.17,256.59 L582.67,256.55 L584.17,256.46 L585.68,256.32 L587.19,256.13 L588.70,255.89 L590.20,255.60 L591.70,255.26 L593.19,254.88 L594.67,254.46 L596.14,253.99 L597.60,253.47 L599.05,252.91 L600.47,252.32 L601.88,251.68 L603.27,251.00 L604.64,250.29 L605.98,249.53 L607.30,248.75 L608.59,247.92 L609.85,247.06 L611.07,246.17 L612.27,245.25 L613.42,244.29 L614.55,243.31 L615.63,242.29 L616.67,241.25 L617.68,240.18 L618.65,239.09 L619.59,237.97 L620.49,236.82 L621.37,235.65 L622.21,234.46 L623.02,233.25 L623.81,232.02 L624.56,230.76 L625.29,229.49 L626.00,228.20 L626.68,226.90 L627.34,225.58 L627.98,224.24 L628.60,222.89 L629.20,221.53 L629.78,220.16 L630.35,218.77 L630.90,217.38 L631.44,215.98 L631.96,214.57 L632.47,213.15 L632.97,211.73 L633.47,210.30 L633.95,208.87 L634.43,207.43 L634.90,206.00 L635.36,204.56 L635.83,203.12 L636.28,201.68 L636.74,200.23 L637.19,198.79 L637.64,197.35 L638.09,195.90 L638.53,194.46 L638.98,193.02 L639.43,191.58 L639.88,190.14 L640.33,188.70 L640.78,187.26 L641.24,185.83 L641.69,184.39 L642.16,182.96 L642.63,181.53 L643.10,180.11 L643.58,178.69 L644.06,177.27 L644.56,175.86 L645.06,174.45 L645.57,173.04 L646.09,171.64 L646.62,170.25 L647.16,168.86 L647.71,167.48 L648.27,166.10 L648.84,164.73 L649.43,163.37 L650.03,162.01 L650.64,160.66 L651.27,159.32 L651.92,157.98 L652.58,156.65 L653.26,155.34 L653.95,154.03 L654.67,152.72 L655.40,151.43 L656.15,150.15 L656.92,148.88 L657.71,147.62 L658.52,146.36 L659.36,145.12 L660.21,143.89 L661.09,142.67 L661.99,141.46 L662.92,140.27 L663.87,139.09 L664.85,137.91 L665.85,136.75 L666.88,135.61 L667.94,134.48 L669.02,133.36 L670.13,132.25 L671.28,131.16" fill="none" stroke="#e20a12" stroke-width="2.5"/>
<line x1="429.9" y1="285.8" x2="539.0" y2="285.8" stroke="#333" stroke-width="1.1"/>
<path d="M421.9,285.8 L430.5,281.5 L430.5,290.1 Z" fill="#111"/>
<line x1="543.5" y1="285.8" x2="630.4" y2="285.8" stroke="#333" stroke-width="1.1"/>
<path d="M638.4,285.8 L629.8,281.5 L629.8,290.1 Z" fill="#111"/>
<text x="479.9" y="303.3" text-anchor="middle" textLength="91.0" lengthAdjust="spacingAndGlyphs" style="font-family:'Liberation Sans',sans-serif;font-size:10.8px" fill="#2a2a2a" stroke="#2a2a2a" stroke-width="0.25">RuBisCO activation</text>
<text x="479.9" y="316.6" text-anchor="middle" textLength="46.5" lengthAdjust="spacingAndGlyphs" style="font-family:'Liberation Sans',sans-serif;font-size:10.8px" fill="#2a2a2a" stroke="#2a2a2a" stroke-width="0.25">dominant</text>
<text x="596.0" y="303.3" text-anchor="middle" textLength="90.5" lengthAdjust="spacingAndGlyphs" style="font-family:'Liberation Sans',sans-serif;font-size:10.8px" fill="#2a2a2a" stroke="#2a2a2a" stroke-width="0.25">RuBP regeneration</text>
<text x="596.2" y="316.6" text-anchor="middle" textLength="47.0" lengthAdjust="spacingAndGlyphs" style="font-family:'Liberation Sans',sans-serif;font-size:10.8px" fill="#2a2a2a" stroke="#2a2a2a" stroke-width="0.25">dominant</text>
<line x1="1.8" y1="12" x2="44" y2="12" stroke="#000" stroke-width="2.5" stroke-dasharray="9.7 6.7"/>
<text x="52.6" y="15.1" style="font-family:'Liberation Sans',sans-serif;font-size:12px" fill="#111">Full-light-integration</text>
<line x1="1.8" y1="37.6" x2="45" y2="37.6" stroke="#000" stroke-width="2.3" stroke-dasharray="2.3 2.3"/>
<text x="54.1" y="40.2" style="font-family:'Liberation Sans',sans-serif;font-size:12px" fill="#111">No-light-integration</text>
<circle cx="188.2" cy="9.4" r="4.1" fill="#8fcc4c" stroke="#2e4216" stroke-width="1"/>
<text x="215.0" y="12.4" style="font-family:'Liberation Sans',sans-serif;font-size:12px" fill="#111">Experimental</text>
<line x1="164.2" y1="33.3" x2="206.7" y2="33.3" stroke="#e43a3a" stroke-width="2.2"/>
<text x="214.4" y="36.5" style="font-family:'Liberation Sans',sans-serif;font-size:12px" fill="#111">Full model</text>
<line x1="303.3" y1="7.9" x2="346" y2="7.9" stroke="#0c2ba8" stroke-width="2.4"/>
<text x="353.5" y="11.6" style="font-family:'Liberation Sans',sans-serif;font-size:12px" fill="#111">Penalty-only case</text>
<line x1="303.3" y1="33.5" x2="346" y2="33.5" stroke="#000" stroke-width="2.5"/>
<text x="353.5" y="36.5" style="font-family:'Liberation Sans',sans-serif;font-size:12px" fill="#111">Penalty-free case</text>
<line x1="452.7" y1="6" x2="496" y2="6" stroke="#e43a3a" stroke-width="2" stroke-dasharray="2 2.4"/>
<text x="502.2" y="11.1" style="font-family:'Liberation Sans',sans-serif;font-size:12px" fill="#111">RuBP regeneration based penalty</text>
<line x1="452.7" y1="33" x2="495.5" y2="33" stroke="#e43a3a" stroke-width="2.4" stroke-dasharray="9.7 6.7"/>
<text x="501.5" y="36.0" style="font-family:'Liberation Sans',sans-serif;font-size:12px" fill="#111">RuBisCO based penalty</text>
</svg>
</body></html>
